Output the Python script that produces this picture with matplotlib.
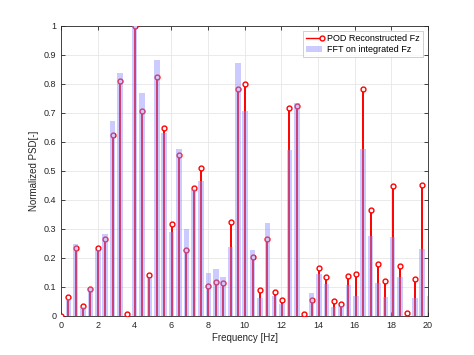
import numpy as np
import matplotlib
matplotlib.use('Agg')
import matplotlib.pyplot as plt
from matplotlib.lines import Line2D
from matplotlib.patches import Patch
from matplotlib.legend_handler import HandlerBase

plt.rcParams['font.family'] = ['Liberation Sans', 'DejaVu Sans']

# frequency bins (Hz)
df = 0.4016
freq_fft = np.arange(51) * df
freq_pod = freq_fft[:50]

# normalized PSD, POD reconstructed Fz (stems)
pod_psd = [0.0, 0.067, 0.234, 0.033, 0.093, 0.236, 0.266, 0.623, 0.809, 0.008,
           1.0, 0.708, 0.142, 0.824, 0.649, 0.318, 0.555, 0.226, 0.44, 0.509,
           0.103, 0.117, 0.113, 0.325, 0.782, 0.801, 0.203, 0.089, 0.264, 0.084,
           0.055, 0.718, 0.725, 0.008, 0.056, 0.166, 0.133, 0.052, 0.04, 0.139,
           0.144, 0.783, 0.364, 0.178, 0.121, 0.448, 0.174, 0.009, 0.128, 0.451]

# normalized PSD, FFT on integrated Fz (bars)
fft_psd = [0.0, 0.06, 0.248, 0.03, 0.1, 0.227, 0.283, 0.672, 0.839, 0.0,
           1.0, 0.77, 0.13, 0.884, 0.63, 0.29, 0.576, 0.3, 0.437, 0.467,
           0.149, 0.163, 0.133, 0.239, 0.872, 0.706, 0.228, 0.061, 0.321, 0.07,
           0.04, 0.572, 0.735, 0.0, 0.078, 0.146, 0.11, 0.032, 0.035, 0.106,
           0.069, 0.575, 0.276, 0.113, 0.067, 0.272, 0.136, 0.0, 0.063, 0.231,
           0.068]


class StemLegend(HandlerBase):
    # matlab style stem legend: line with the marker at its right end
    def create_artists(self, legend, orig_handle, xdescent, ydescent,
                       width, height, fontsize, trans):
        y = height / 2 - ydescent
        ln = Line2D([-xdescent, width - xdescent], [y, y], color='red', lw=1.0)
        mk = Line2D([width - xdescent], [y], marker='o', ms=3.5, mfc='white',
                    mec='red', mew=1.0, ls='none')
        ln.set_transform(trans)
        mk.set_transform(trans)
        return [ln, mk]


fig = plt.figure(figsize=(4.74, 3.55), dpi=100)
ax = fig.add_axes([0.1287, 0.1099, 0.7743, 0.8169])

ax.vlines(freq_pod, 0, pod_psd, color='red', lw=1.4, zorder=2)
ax.plot(freq_pod, pod_psd, 'o', ms=3.5, mfc='white', mec='red', mew=1.0, zorder=3)
ax.bar(freq_fft, fft_psd, width=0.3, color=(0.55, 0.55, 1.0), alpha=0.45,
       lw=0, zorder=4)

ax.set_xlim(0, 20)
ax.set_ylim(0, 1)
ax.set_xticks(np.arange(0, 21, 2))
ax.set_yticks(np.arange(0, 1.01, 0.1))
ax.set_yticklabels(['0', '0.1', '0.2', '0.3', '0.4', '0.5', '0.6', '0.7', '0.8', '0.9', '1'])
ax.grid(True, color='#e6e6e6', lw=0.6, zorder=0)
ax.set_axisbelow(True)
ax.tick_params(direction='in', top=True, right=True, labelsize=6.5,
               colors='#262626', length=3, width=0.6)
for s in ax.spines.values():
    s.set_color('#262626')
    s.set_linewidth(0.6)
ax.set_xlabel('Frequency [Hz]', fontsize=7, color='#262626', labelpad=2)
ax.set_ylabel('Normalized PSD[-]', fontsize=7, color='#262626', labelpad=3)

handles = [Line2D([], [], color='red'), Patch(facecolor=(0.55, 0.55, 1.0), alpha=0.45)]
leg = ax.legend(handles, ['POD Reconstructed Fz', 'FFT on integrated Fz'],
                handler_map={handles[0]: StemLegend()}, loc='upper right',
                fontsize=6.5, frameon=True, fancybox=False, edgecolor='#bbbbbb',
                handlelength=1.8, handletextpad=0.55, borderpad=0.3,
                labelspacing=0.2, borderaxespad=0.6)
leg.get_frame().set_linewidth(0.6)

fig.savefig('out.png', dpi=100)
